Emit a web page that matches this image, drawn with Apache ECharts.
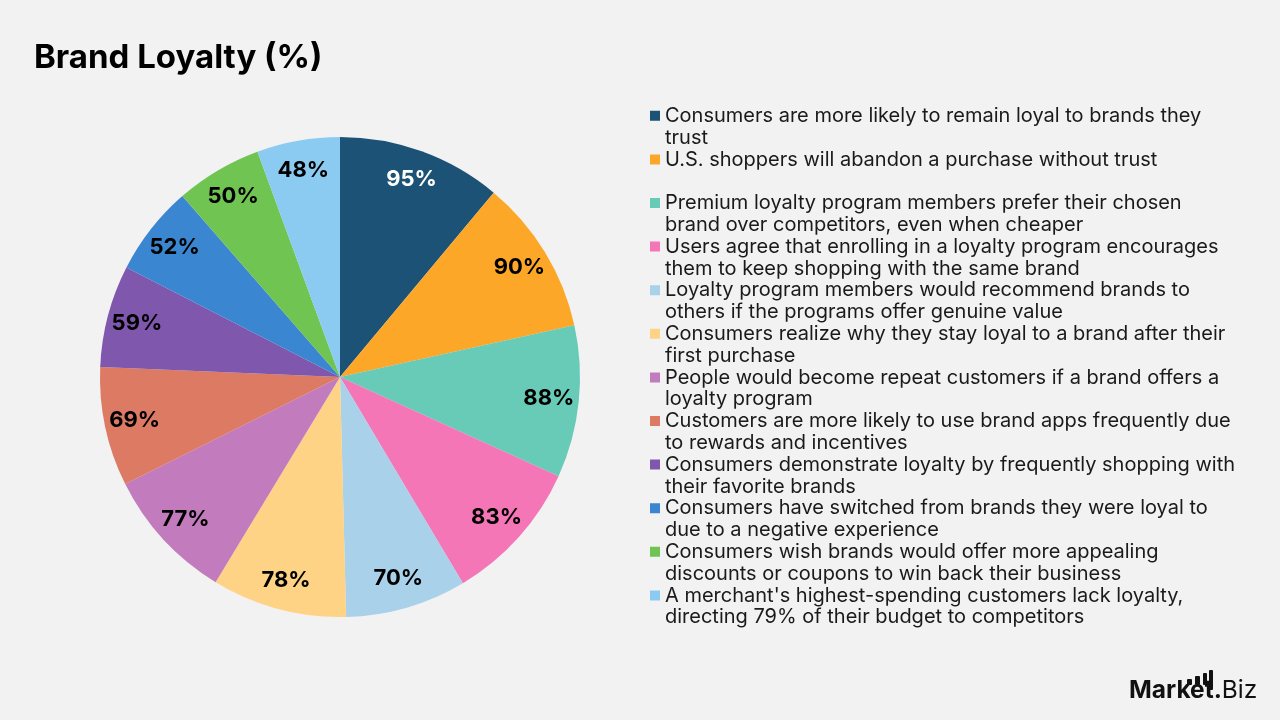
<!DOCTYPE html>
<html lang="en">
<head>
    <meta charset="UTF-8">
    <title>Brand Loyalty (%)</title>
    <script src="https://cdn.jsdelivr.net/npm/echarts@6/dist/echarts.min.js"></script>
    <style>
        html, body { margin: 0; padding: 0; background: #f2f2f2; }
        #main { width: 1280px; height: 720px; }
    </style>
</head>
<body>
<div id="main"></div>
<script type="text/javascript">
    // legend names (line breaks as in the reference)
    const categories = [
        'Consumers are more likely to remain loyal to brands they\ntrust',
        'U.S. shoppers will abandon a purchase without trust\n ',
        'Premium loyalty program members prefer their chosen\nbrand over competitors, even when cheaper',
        'Users agree that enrolling in a loyalty program encourages\nthem to keep shopping with the same brand',
        'Loyalty program members would recommend brands to\nothers if the programs offer genuine value',
        'Consumers realize why they stay loyal to a brand after their\nfirst purchase',
        'People would become repeat customers if a brand offers a\nloyalty program',
        'Customers are more likely to use brand apps frequently due\nto rewards and incentives',
        'Consumers demonstrate loyalty by frequently shopping with\ntheir favorite brands',
        'Consumers have switched from brands they were loyal to\ndue to a negative experience',
        'Consumers wish brands would offer more appealing\ndiscounts or coupons to win back their business',
        "A merchant's highest-spending customers lack loyalty,\ndirecting 79% of their budget to competitors"
    ]
    const values = [95, 90, 88, 83, 70, 78, 77, 69, 59, 52, 50, 48]
    const colors = ['#1c5276', '#fca728', '#68cbb7', '#f476b7', '#a9d1ea', '#fed385',
        '#c27bbd', '#dc7a64', '#7f58ad', '#3a86d0', '#6fc452', '#8ccbf1']
    const labelColors = ['#ffffff', '#000', '#000', '#000', '#000', '#000',
        '#000', '#000', '#000', '#000', '#000', '#000']

    const fontFam = 'Inter, "Open Sans", sans-serif'
    // square on the first text line; the tiny dot at the bottom only stretches the icon box
    const legendIcon = 'path://M0,0h10v10h-10z M0,31.99h0.01v0.01h-0.01z'

    let pieData = categories.map(function (name, i) {
        return {name: name, value: values[i], itemStyle: {color: colors[i]}}
    })
    let labelData = categories.map(function (name, i) {
        return {name: name, value: values[i], label: {color: labelColors[i]}}
    })

    let chart = echarts.init(document.getElementById('main'))
    chart.setOption({
        backgroundColor: '#f2f2f2',
        animation: false,
        title: {
            text: 'Brand Loyalty (%)',
            left: 29,
            top: 37,
            textStyle: {fontFamily: fontFam, fontSize: 33, fontWeight: 'bold', color: '#000'}
        },
        legend: {
            orient: 'vertical',
            left: 645,
            top: 100,
            icon: legendIcon,
            itemWidth: 10,
            itemHeight: 32,
            itemGap: 0,
            data: categories,
            textStyle: {
                fontFamily: fontFam,
                fontSize: 20,
                color: '#1a1a1a',
                lineHeight: 21.8
            },
            selectedMode: false
        },
        series: [
            {
                type: 'pie',
                center: [340, 377],
                radius: [0, 240],
                startAngle: 90,
                clockwise: true,
                avoidLabelOverlap: false,
                silent: true,
                label: {show: false},
                labelLine: {show: false},
                data: pieData
            },
            {
                // transparent ring only carrying the value labels
                type: 'pie',
                center: [340, 377],
                radius: [176, 238],
                startAngle: 90,
                clockwise: true,
                avoidLabelOverlap: false,
                silent: true,
                itemStyle: {color: 'rgba(0,0,0,0)'},
                label: {
                    show: true,
                    position: 'inside',
                    formatter: '{c}%',
                    fontFamily: fontFam,
                    fontSize: 22,
                    fontWeight: 'bold'
                },
                labelLine: {show: false},
                data: labelData
            }
        ],
        graphic: [
            {type: 'rect', shape: {x: 1187, y: 679, width: 5, height: 6, r: 1}, style: {fill: '#111'}},
            {type: 'rect', shape: {x: 1195, y: 676, width: 5, height: 9, r: 1}, style: {fill: '#111'}},
            {type: 'rect', shape: {x: 1203, y: 673, width: 4, height: 12, r: 1}, style: {fill: '#111'}},
            {type: 'rect', shape: {x: 1209, y: 670, width: 4, height: 20, r: 1}, style: {fill: '#111'}},
            {
                type: 'text',
                left: 1129,
                top: 678,
                style: {
                    text: '{a|Market.}{d|Biz}',
                    rich: {
                        a: {fontFamily: fontFam, fontSize: 24.5, fontWeight: 'bold', fill: '#111'},
                        d: {fontFamily: fontFam, fontSize: 24.5, fontWeight: 'normal', fill: '#111'}
                    }
                }
            }
        ]
    })
</script>
</body>
</html>
